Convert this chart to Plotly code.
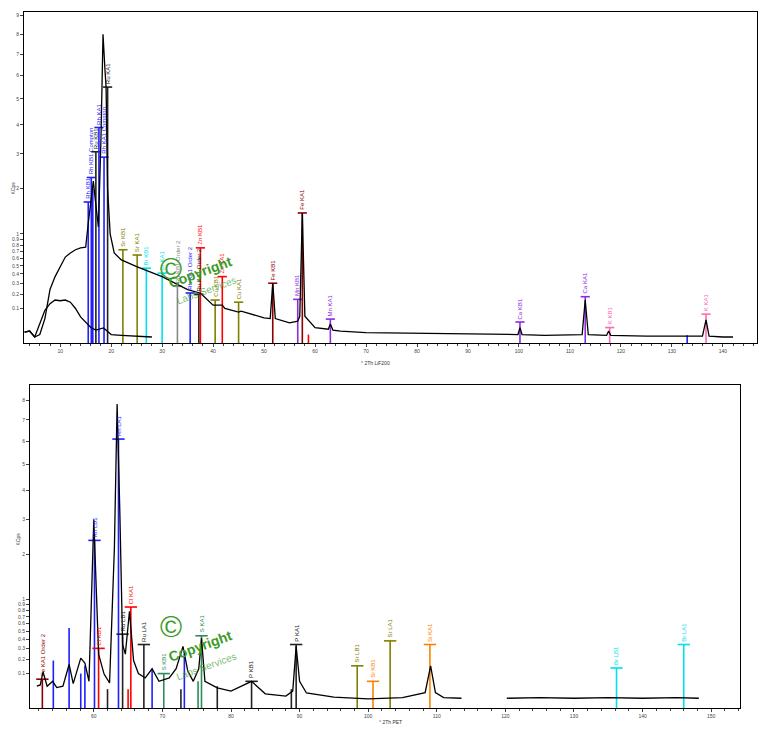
import numpy as np
import plotly.graph_objects as go
from plotly.subplots import make_subplots

# ---- top spectrum (LiF200), values in KCps ----
top_x = [3, 4, 5, 6, 7, 8, 9, 10, 11, 12, 13, 14, 15, 15.5, 16.0, 16.5, 17.0, 17.5, 18.0, 18.4,
         18.8, 19.0, 19.3, 19.8, 20.6, 22, 25, 30, 35, 37.4, 38, 40, 41.8, 42.3, 45, 45.5, 50,
         51.2, 51.7, 52.2, 55, 56.6, 57.0, 57.5, 58.0, 60, 62.6, 63.0, 63.5, 65, 70, 80, 90,
         99.8, 100.2, 100.6, 105, 110, 112.4, 113.0, 113.6, 117.2, 117.6, 118.0, 125, 133,
         136.0, 136.7, 137.3, 140, 142]
top_y = [0.01, 0.012, 0.003, 0.006, 0.05, 0.24, 0.37, 0.49, 0.62, 0.68, 0.73, 0.76, 0.77, 1.2,
         1.72, 2.2, 1.6, 1.13, 3.5, 8.0, 6.2, 5.5, 2.0, 1.0, 0.68, 0.58, 0.49, 0.37, 0.24, 0.21,
         0.19, 0.12, 0.12, 0.1, 0.08, 0.085, 0.053, 0.05, 0.30, 0.05, 0.034, 0.04, 0.06, 1.42, 0.06,
         0.02, 0.016, 0.03, 0.014, 0.012, 0.009, 0.008, 0.007, 0.006, 0.02, 0.006, 0.005, 0.005,
         0.006, 0.155, 0.006, 0.005, 0.012, 0.005, 0.004, 0.004, 0.004, 0.045, 0.004, 0.003, 0.003]

top2_x = [3, 4, 5, 6, 7, 8, 9, 10, 11, 12, 13, 14, 15, 16, 17, 18.5, 19.2, 20, 22, 25, 28]
top2_y = [0.01, 0.012, 0.003, 0.03, 0.09, 0.13, 0.155, 0.15, 0.155, 0.14, 0.1, 0.057, 0.037,
          0.02, 0.014, 0.019, 0.012, 0.006, 0.005, 0.004, 0.003]

# ---- bottom spectrum (PET) ----
bot_x = [51.7, 52.2, 52.6, 53.2, 54.0, 54.6, 55.5, 56.4, 57.0, 58.1, 58.7, 59.3, 60.0, 60.7,
         61.5, 62.3, 63.0, 63.4, 63.8, 64.2, 64.6, 65.2, 65.8, 66.5, 67.5, 68.5, 69.5, 71, 72,
         73.0, 73.7, 74.5, 75.3, 75.7, 76.2, 78, 80, 83, 85, 88, 89, 89.5, 90, 91, 95, 100, 105,
         108.3, 109.1, 109.8, 111, 113.6, None, 120.2, 125, 130, 135, 140, 145, 148.2]
bot_y = [0.04, 0.045, 0.11, 0.04, 0.06, 0.035, 0.04, 0.16, 0.05, 0.21, 0.17, 0.06, 3.0, 0.245,
         0.097, 0.053, 2.15, 7.8, 3.2, 0.34, 0.245, 0.79, 0.19, 0.1, 0.076, 0.13, 0.06, 0.076,
         0.13, 0.32, 0.115, 0.06, 0.13, 0.41, 0.06, 0.034, 0.024, 0.06, 0.017, 0.012, 0.024, 0.32,
         0.06, 0.019, 0.01, 0.007, 0.009, 0.02, 0.15, 0.02, 0.009, 0.008, None, 0.008, 0.009,
         0.008, 0.009, 0.008, 0.009, 0.008]

# ---- line markers: x, marker height, colour, label ----
top_lines = [
    (15.5, 1.67, "#1f1fff", "Rh KB1"), (16.1, 2.3, "#1f1fff", "Rh KB1 Compton"),
    (17.0, 3.07, "#222222", "Ru KB1"), (17.6, 3.9, "#1f1fff", "Rh KA1"),
    (18.6, 2.9, "#1f1fff", "Rh KA1 Compton"), (19.3, 5.5, "#222222", "Ru KA1"),
    (22.3, 0.73, "#808000", "Sr KB1"), (25.1, 0.65, "#808000", "Sr KA1"),
    (26.9, 0.47, "#00e0f0", "Br KB1"), (30.0, 0.41, "#00e0f0", "Br KA1"),
    (33.0, 0.27, "#888888", "Ru KB1 Order 2"), (35.5, 0.21, "#1f1fff", "Rh KA1 Order 2"),
    (37.2, 0.2, "#222222", "Ru KA1 Order 2"), (37.5, 0.76, "#ff0000", "Zn KB1"),
    (40.4, 0.155, "#808000", "Cu KB1"), (41.8, 0.37, "#ff0000", "Zn KA1"),
    (45.0, 0.14, "#808000", "Cu KA1"), (51.7, 0.30, "#8b0000", "Fe KB1"),
    (56.6, 0.16, "#8a2be2", "Mn KB1"), (57.5, 1.42, "#8b0000", "Fe KA1"),
    (63.0, 0.048, "#8a2be2", "Mn KA1"), (100.2, 0.037, "#8a2be2", "Ca KB1"),
    (113.0, 0.18, "#8a2be2", "Ca KA1"), (117.8, 0.02, "#ff69b4", "K KB1"),
    (136.7, 0.07, "#ff69b4", "K KA1"),
]
bot_lines = [
    (52.5, 0.07, "#8b0000", "Fe KA1 Order 2"), (60.1, 2.37, "#1f1fff", "Rh LB1"),
    (60.7, 0.30, "#ff0000", "Cl KB1"), (63.6, 6.1, "#1f1fff", "Rh LA1"),
    (64.2, 0.46, "#222222", "Ru LB1"), (65.4, 0.86, "#ff0000", "Cl KA1"),
    (67.3, 0.34, "#222222", "Ru LA1"), (70.2, 0.1, "#2e8b57", "S KB1"),
    (75.7, 0.44, "#2e8b57", "S KA1"), (83.0, 0.06, "#222222", "P KB1"),
    (89.5, 0.34, "#222222", "P KA1"), (98.4, 0.15, "#808000", "Sr LB1"),
    (100.7, 0.06, "#ff8000", "Si KB1"), (103.2, 0.38, "#808000", "Sr LA1"),
    (109.0, 0.34, "#ff8000", "Si KA1"), (136.2, 0.135, "#00e0f0", "Br LB1"),
    (146.0, 0.34, "#00e0f0", "Br LA1"),
]
# unlabeled short lines
bot_small = [(54.1, 0.19, "#1f1fff"), (56.4, 0.54, "#1f1fff"), (58.1, 0.1, "#1f1fff"),
             (58.7, 0.15, "#1f1fff"), (68.5, 0.13, "#1f1fff"), (73.2, 0.25, "#1f1fff"),
             (62.0, 0.03, "#222222"), (72.7, 0.03, "#222222"), (78.0, 0.04, "#222222"),
             (88.8, 0.03, "#222222"), (65.0, 0.03, "#ff0000"), (75.2, 0.06, "#2e8b57")]
top_small = [(16.4, 2.0, "#1f1fff"), (133.0, 0.005, "#1f1fff"), (58.7, 0.006, "#ff0000")]

y_ticks = [0.1, 0.2, 0.3, 0.4, 0.5, 0.6, 0.7, 0.8, 0.9, 1, 2, 3, 4, 5, 6, 7, 8, 9]

W, H, OFF = 768, 736, 8  # page body margin offset


def px(p):
    return (p - OFF) / W


def py(p):
    return 1 - (p - OFF) / H


fig = make_subplots(rows=2, cols=1)
fig.update_layout(xaxis=dict(domain=[px(24), px(757)]), yaxis=dict(domain=[py(343), py(12)]),
                  xaxis2=dict(domain=[px(30), px(740)]), yaxis2=dict(domain=[py(708), py(385)]))

def sq(vals):
    return [None if v is None else np.sqrt(v) for v in vals]

def add_lines(lines, row, cap, labeled=True):
    for item in lines:
        x, h, c = item[0], item[1], item[2]
        xs, ys = [x, x], [0, np.sqrt(h)]
        if labeled:
            xs += [None, x - cap, x + cap]
            ys += [None, np.sqrt(h), np.sqrt(h)]
        fig.add_trace(go.Scatter(x=xs, y=ys, mode="lines", line=dict(color=c, width=1.6),
                                 hoverinfo="skip", showlegend=False), row=row, col=1)
        if labeled:
            fig.add_annotation(x=x, y=np.sqrt(h), text=item[3], textangle=-90, showarrow=False,
                               yanchor="bottom", yshift=1, font=dict(size=6, color=c),
                               xref="x" if row == 1 else "x2", yref="y" if row == 1 else "y2")

add_lines(top_lines, 1, 0.9)
add_lines(top_small, 1, 0, labeled=False)
add_lines(bot_lines, 2, 0.9)
add_lines(bot_small, 2, 0, labeled=False)

fig.add_trace(go.Scatter(x=top2_x, y=sq(top2_y), mode="lines", line=dict(color="black", width=1.3),
                         showlegend=False), row=1, col=1)
fig.add_trace(go.Scatter(x=top_x, y=sq(top_y), mode="lines", line=dict(color="black", width=1.3),
                         showlegend=False), row=1, col=1)
fig.add_trace(go.Scatter(x=bot_x, y=sq(bot_y), mode="lines", line=dict(color="black", width=1.3),
                         showlegend=False, connectgaps=False), row=2, col=1)

ax = dict(showline=True, linecolor="black", linewidth=1, mirror=True, showgrid=False,
          zeroline=False, ticks="outside", ticklen=3, tickfont=dict(size=5, color="#444"),
          minor=dict(ticks="outside", ticklen=2, dtick=2), automargin=False)
fig.update_xaxes(**ax, dtick=10)
fig.update_xaxes(range=[2.9, 146.7], row=1, col=1)
fig.update_xaxes(range=[50.7, 154.2], row=2, col=1)
yax = dict(showline=True, linecolor="black", linewidth=1, mirror=True, showgrid=False,
           zeroline=False, ticks="outside", ticklen=3, tickfont=dict(size=5, color="#444"),
           tickvals=list(np.sqrt(y_ticks)), ticktext=[str(v) for v in y_ticks], automargin=False)
fig.update_yaxes(**yax)
fig.update_yaxes(range=[0, np.sqrt(9.2)], row=1, col=1)
fig.update_yaxes(range=[0, np.sqrt(8.8)], row=2, col=1)

notes = [
    dict(x=px(375), y=py(363), text="° 2Th LiF200", textangle=0),
    dict(x=px(390), y=py(727), text="° 2Th PET", textangle=0),
    dict(x=px(7), y=py(180), text="KCps", textangle=-90),
    dict(x=px(12), y=py(548), text="KCps", textangle=-90),
]
for n in notes:
    fig.add_annotation(xref="paper", yref="paper", showarrow=False, font=dict(size=5, color="#333"), **n)

# watermarks
for cx, cy in [(158, 250), (158, 645)]:
    fig.add_annotation(xref="paper", yref="paper", x=px(cx), y=py(cy), text="©", showarrow=False,
                       font=dict(size=30, color="#3c9a2a"))
    fig.add_annotation(xref="paper", yref="paper", x=px(cx + 6), y=py(cy + 22), text="<b>Copyright</b>",
                       textangle=-20, showarrow=False, font=dict(size=14, color="#3c9a2a"))
    fig.add_annotation(xref="paper", yref="paper", x=px(cx + 14), y=py(cy + 40), text="Labs Services",
                       textangle=-20, showarrow=False, font=dict(size=10, color="rgba(60,154,42,0.7)"))

fig.update_layout(width=W, height=H, margin=dict(l=0, r=0, t=0, b=0, autoexpand=False),
                  plot_bgcolor="white", paper_bgcolor="white", font=dict(family="Arial"))
fig.write_html("out.html")
